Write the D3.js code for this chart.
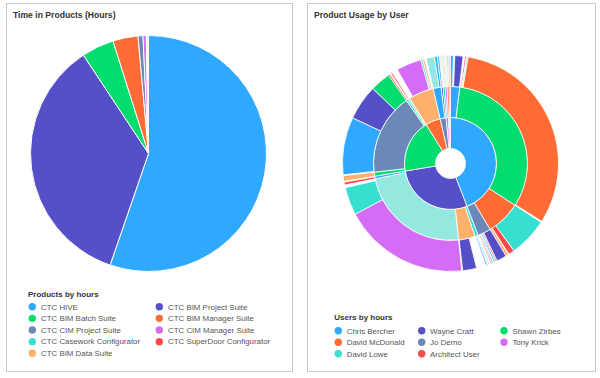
<!DOCTYPE html>
<html><head><meta charset="utf-8">
<script src="https://cdn.jsdelivr.net/npm/d3@7"></script>
<style>
html,body{margin:0;padding:0;background:#fff;}
svg{display:block;font-family:"Liberation Sans",Arial,sans-serif;}
</style></head>
<body>
<svg id="chart" width="600" height="378"></svg>
<script>
// ---------- data ----------
const palette = ["#2ea9ff","#5650c8","#03dc6e","#ff6b35","#6b88b8","#d46cf6","#35e0d1","#ff4848","#ffb16c","#95e8e0"];

const productNames = ["CTC HIVE","CTC BIM Project Suite","CTC BIM Batch Suite","CTC BIM Manager Suite","CTC CIM Project Suite","CTC CIM Manager Suite","CTC Casework Configurator","CTC SuperDoor Configurator","CTC BIM Data Suite"];
const productHours = [199, 127.5, 16, 12.4, 2.4, 1.6, 0.4, 0.3, 0.4];

const userNames = ["Chris Bercher","Wayne Cratt","Shawn Zirbes","David McDonald","Jo Demo","Tony Krick","David Lowe","Architect User"];

// middle ring: [userIndex, colorIndex]
const middleRing = [
  [0,0],[0,2],[0,3],[0,4],
  [1,6],[1,8],[1,9],[1,0],
  [2,2],[2,4],[2,6],[2,9],
  [3,8],
  [4,0],[4,1],
  [5,2],[5,5],
  [6,3],
  [7,4]
];
// outer ring: [middleIndex, colorIndex (-1 = unassigned), hours]
const outerRing = [
  [0,0,1.5],[0,-1,0.8],[0,1,4.4],[0,-1,0.3],
  [1,-1,0.6],[1,7,0.8],[1,-1,0.2],[1,9,0.8],[1,3,113],[1,-1,0.6],
  [2,6,21],[2,7,3.2],[2,-1,0.3],[2,8,1.5],
  [3,1,5.5],[3,7,0.7],[3,-1,0.3],[3,0,0.8],[3,-1,0.5],[3,0,0.7],[3,7,0.6],[3,-1,0.9],
  [4,7,0.5],[4,9,0.6],[4,0,0.8],[4,-1,0.6],
  [5,-1,4.5],[5,1,7.5],[5,-1,0.5],
  [6,5,68],[6,6,15],[6,-1,1.5],
  [7,7,1.5],[7,-1,0.5],
  [8,8,3],
  [9,-1,0.5],[9,0,31],[9,1,19],[9,2,11],
  [10,7,0.8],[10,-1,0.7],
  [11,7,0.8],[11,-1,0.7],
  [12,-1,2.5],[12,5,13.5],[12,6,1],[12,8,1],[12,-1,1],
  [13,9,4.5],[13,0,1.5],
  [14,0,1.0],[14,-1,0.5],
  [15,3,0.5],[15,9,0.5],[15,2,0.5],
  [16,8,0.7],[16,-1,0.8],
  [17,9,0.6],[17,3,0.5],[17,-1,0.4],
  [18,0,0.6],[18,-1,0.4]
];

// ---------- drawing ----------
const svg = d3.select("#chart");
const color = d3.scaleOrdinal().domain(d3.range(palette.length)).range(palette);

// panels
svg.append("rect").attr("x",6.5).attr("y",3.5).attr("width",286).attr("height",368)
  .attr("fill","#fff").attr("stroke","#c8c8c8");
svg.append("rect").attr("x",307.5).attr("y",3.5).attr("width",288).attr("height",368)
  .attr("fill","#fff").attr("stroke","#c8c8c8");

svg.append("text").attr("x",13).attr("y",18).attr("font-size","8.6px").attr("font-weight","bold")
  .attr("fill","#333").text("Time in Products (Hours)");
svg.append("text").attr("x",314).attr("y",18).attr("font-size","8.6px").attr("font-weight","bold")
  .attr("fill","#333").text("Product Usage by User");

// ---- left pie ----
const pie = d3.pie().sort(null).value(d => d.v);
const pieData = pie(productNames.map((n,i)=>({name:n, v:productHours[i], c:i})));
const arcL = d3.arc().innerRadius(0).outerRadius(118);
const gL = svg.append("g").attr("transform","translate(148.5,153.5)");
gL.selectAll("path").data(pieData).join("path")
  .attr("d", arcL).attr("fill", d => color(d.data.c))
  .attr("stroke","#fff").attr("stroke-width",1);

// left legend
const legL = svg.append("g");
legL.append("text").attr("x",28).attr("y",297).attr("font-size","8px").attr("font-weight","bold")
  .attr("fill","#333").text("Products by hours");
const legLItems = legL.selectAll("g.it").data(productNames).join("g").attr("class","it")
  .attr("transform",(d,i)=>`translate(${i%2===0?32.3:159.3},${306.7+Math.floor(i/2)*11.65})`);
legLItems.append("circle").attr("r",3.7).attr("fill",(d,i)=>color(i));
legLItems.append("text").attr("x",8.7).attr("y",2.8).attr("font-size","7.9px").attr("fill","#555").text(d=>d);

// ---- right sunburst ----
const rootData = {name:"root", children: userNames.map((u,ui)=>({
  name:u, c:ui,
  children: middleRing.map((m,mi)=>({m, mi})).filter(o=>o.m[0]===ui).map(o=>({
    name:u+"-"+o.mi, c:o.m[1],
    children: outerRing.filter(r=>r[0]===o.mi).map(r=>({c:r[1], value:r[2]}))
  }))
}))};
const root = d3.hierarchy(rootData).sum(d => d.value || 0);
d3.partition().size([2*Math.PI, 4])(root);
const rScale = d3.scaleLinear().domain([1,4]).range([15,108]);
const arcS = d3.arc()
  .startAngle(d=>d.x0).endAngle(d=>d.x1)
  .innerRadius(d=>rScale(d.y0)).outerRadius(d=>rScale(d.y1));
const gS = svg.append("g").attr("transform","translate(450.5,163.5)");
gS.selectAll("path").data(root.descendants().filter(d=>d.depth>0 && d.data.c>=0)).join("path")
  .attr("d", arcS).attr("fill", d=>color(d.data.c))
  .attr("stroke","#fff").attr("stroke-width",0.8);

// right legend
const legR = svg.append("g");
legR.append("text").attr("x",334.3).attr("y",319.5).attr("font-size","8px").attr("font-weight","bold")
  .attr("fill","#333").text("Users by hours");
const colX = [338.3, 421.7, 504];
const legRItems = legR.selectAll("g.it").data(userNames).join("g").attr("class","it")
  .attr("transform",(d,i)=>`translate(${colX[i%3]},${330.7+Math.floor(i/3)*11.5})`);
legRItems.append("circle").attr("r",3.7).attr("fill",(d,i)=>color(i));
legRItems.append("text").attr("x",8.4).attr("y",2.8).attr("font-size","7.9px").attr("fill","#555").text(d=>d);
</script>
</body></html>
